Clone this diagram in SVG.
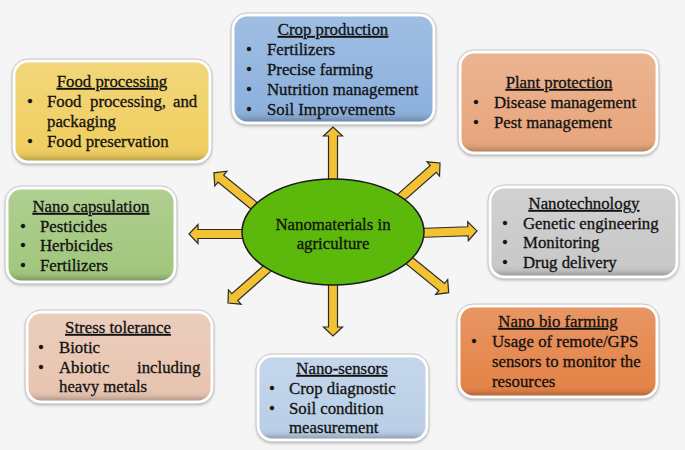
<svg xmlns="http://www.w3.org/2000/svg" width="685" height="450" viewBox="0 0 685 450">
<style>
text{font-family:'Liberation Serif','Times New Roman',Tinos,'DejaVu Serif',serif;font-size:16.8px;fill:#111;stroke:#111;stroke-width:0.3}
.t{text-anchor:middle;text-decoration:underline}
.c{text-anchor:middle}
.box{stroke:#ffffff;stroke-width:3;filter:url(#sh)}
.edge{fill:none;stroke:#c8c8c8;stroke-width:1}
.shade{fill:url(#shade);stroke:none}
.arr{fill:#F3C232;stroke:#2a2a2a;stroke-width:1.2;stroke-linejoin:miter}
</style>
<defs>
<filter id="sh" x="-10%" y="-10%" width="120%" height="130%">
<feDropShadow dx="0" dy="1.5" stdDeviation="1.5" flood-color="#000" flood-opacity="0.3"/>
</filter>
<linearGradient id="shade" x1="0" y1="0" x2="0" y2="1">
<stop offset="0" stop-color="#fff" stop-opacity="0.15"/>
<stop offset="0.85" stop-color="#fff" stop-opacity="0"/>
<stop offset="0.94" stop-color="#000" stop-opacity="0.05"/>
<stop offset="1" stop-color="#000" stop-opacity="0.22"/>
</linearGradient>
</defs>
<rect width="685" height="450" fill="#f5f5f5"/>

<g id="connectors">
<path class="arr" transform="translate(333,185) rotate(-90)" d="M0,-4.5H49V-9.5L58,0L49,9.5V4.5H0Z"/>
<path class="arr" transform="translate(333,280) rotate(90)" d="M0,-4.5H47V-9.5L56,0L47,9.5V4.5H0Z"/>
<path class="arr" transform="translate(248,234) rotate(180)" d="M0,-4.5H50V-9.5L59,0L50,9.5V4.5H0Z"/>
<path class="arr" transform="translate(418,233) rotate(-2)" d="M0,-4.5H50V-9.5L59,0L50,9.5V4.5H0Z"/>
<path class="arr" transform="translate(258,209) rotate(-140.7)" d="M0,-4.5H48V-9.5L57,0L48,9.5V4.5H0Z"/>
<path class="arr" transform="translate(398,200) rotate(-41.4)" d="M0,-4.5H47V-9.5L56,0L47,9.5V4.5H0Z"/>
<path class="arr" transform="translate(406,258) rotate(39.1)" d="M0,-4.5H46V-9.5L55,0L46,9.5V4.5H0Z"/>
<path class="arr" transform="translate(270,266) rotate(138.6)" d="M0,-4.5H47V-9.5L56,0L47,9.5V4.5H0Z"/>
</g>

<g font-family="Liberation Serif, Times New Roman, serif">
<g id="center">
<ellipse cx="333" cy="232" rx="91" ry="53" fill="#5DB80C" stroke="#1a1a1a" stroke-width="1.5"/>
<text class="c" x="333" y="230">Nanomaterials in</text>
<text class="c" x="333" y="249">agriculture</text>
</g>

<g id="crop-production">
<rect class="box" x="233" y="15" width="201" height="108" rx="14" fill="#8EB2DD"/>
<rect class="shade" x="234.5" y="16.5" width="198" height="105" rx="13"/>
<rect class="edge" x="231" y="13" width="205" height="112" rx="16"/>
<text class="t" x="333" y="35">Crop production</text>
<text x="246" y="55">•</text><text x="267" y="55">Fertilizers</text>
<text x="246" y="75">•</text><text x="267" y="75">Precise farming</text>
<text x="246" y="95">•</text><text x="267" y="95">Nutrition management</text>
<text x="246" y="115">•</text><text x="267" y="115">Soil Improvements</text>
</g>

<g id="food-processing">
<rect class="box" x="14" y="61" width="196" height="101" rx="14" fill="#F0CF62"/>
<rect class="shade" x="15.5" y="62.5" width="193" height="98" rx="13"/>
<rect class="edge" x="12" y="59" width="200" height="105" rx="16"/>
<text class="t" x="112" y="87">Food processing</text>
<text x="27" y="107">•</text><text y="107"><tspan x="47">Food</tspan><tspan x="90">processing,</tspan><tspan x="173">and</tspan></text>
<text x="47" y="127">packaging</text>
<text x="27" y="147">•</text><text x="47" y="147">Food preservation</text>
</g>

<g id="plant-protection">
<rect class="box" x="460" y="52" width="197" height="101" rx="14" fill="#E8A77E"/>
<rect class="shade" x="461.5" y="53.5" width="194" height="98" rx="13"/>
<rect class="edge" x="458" y="50" width="201" height="105" rx="16"/>
<text class="t" x="559" y="88">Plant protection</text>
<text x="473" y="108">•</text><text x="494" y="108">Disease management</text>
<text x="473" y="128">•</text><text x="494" y="128">Pest management</text>
</g>

<g id="nano-capsulation">
<rect class="box" x="7" y="188" width="168" height="94" rx="14" fill="#A2C77E"/>
<rect class="shade" x="8.5" y="189.5" width="165" height="91" rx="13"/>
<rect class="edge" x="5" y="186" width="172" height="98" rx="16"/>
<text class="t" x="91" y="212">Nano capsulation</text>
<text x="20" y="232">•</text><text x="40" y="232">Pesticides</text>
<text x="20" y="251">•</text><text x="40" y="251">Herbicides</text>
<text x="20" y="271">•</text><text x="40" y="271">Fertilizers</text>
</g>

<g id="nanotechnology">
<rect class="box" x="490" y="187" width="187" height="90" rx="14" fill="#C9C9C9"/>
<rect class="shade" x="491.5" y="188.5" width="184" height="87" rx="13"/>
<rect class="edge" x="488" y="185" width="191" height="94" rx="16"/>
<text class="t" x="584" y="209">Nanotechnology</text>
<text x="502" y="229">•</text><text x="523" y="229">Genetic engineering</text>
<text x="502" y="248">•</text><text x="523" y="248">Monitoring</text>
<text x="502" y="268">•</text><text x="523" y="268">Drug delivery</text>
</g>

<g id="stress-tolerance">
<rect class="box" x="27" y="312" width="185" height="90" rx="14" fill="#E8C5B1"/>
<rect class="shade" x="28.5" y="313.5" width="182" height="87" rx="13"/>
<rect class="edge" x="25" y="310" width="189" height="94" rx="16"/>
<text class="t" x="118" y="333">Stress tolerance</text>
<text x="38" y="353">•</text><text x="59" y="353">Biotic</text>
<text x="38" y="373">•</text><text y="373"><tspan x="59">Abiotic</tspan><tspan x="137">including</tspan></text>
<text x="59" y="392">heavy metals</text>
</g>

<g id="nano-bio-farming">
<rect class="box" x="459" y="306" width="198" height="91" rx="14" fill="#E4844A"/>
<rect class="shade" x="460.5" y="307.5" width="195" height="88" rx="13"/>
<rect class="edge" x="457" y="304" width="202" height="95" rx="16"/>
<text class="t" x="558" y="327">Nano bio farming</text>
<text x="471" y="347">•</text><text x="492" y="347">Usage of remote/GPS</text>
<text x="492" y="367">sensors to monitor the</text>
<text x="492" y="387">resources</text>
</g>

<g id="nano-sensors">
<rect class="box" x="258" y="356" width="169" height="84" rx="14" fill="#BACFE7"/>
<rect class="shade" x="259.5" y="357.5" width="166" height="81" rx="13"/>
<rect class="edge" x="256" y="354" width="173" height="88" rx="16"/>
<text class="t" x="342" y="374">Nano-sensors</text>
<text x="269" y="394">•</text><text x="289" y="394">Crop diagnostic</text>
<text x="269" y="414">•</text><text x="289" y="414">Soil condition</text>
<text x="289" y="433">measurement</text>
</g>
</g>
</svg>
